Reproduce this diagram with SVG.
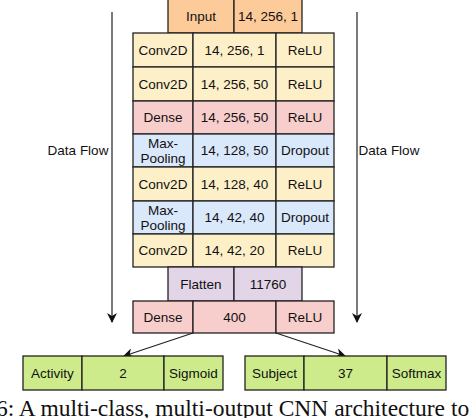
<svg xmlns="http://www.w3.org/2000/svg" width="474" height="418" viewBox="0 0 474 418">
<style>
rect{stroke:#222;stroke-width:1.3}
.t{font-family:"Liberation Sans",Arial,sans-serif;font-size:13.5px;fill:#111;text-anchor:middle;dominant-baseline:central}
.df{font-family:"Liberation Sans",Arial,sans-serif;font-size:13.5px;fill:#111;text-anchor:middle;dominant-baseline:central}
.or{fill:#fdca9a}.ye{fill:#fdf0c8}.rd{fill:#f8cecc}.bl{fill:#dae8fc}.pu{fill:#e1d5e7}.gr{fill:#cdeb8b}
.cap{font-family:"Liberation Serif","Times New Roman",serif;font-size:23.5px;fill:#111}
</style>
<defs>
<marker id="ah" markerWidth="10" markerHeight="10" refX="9" refY="5" orient="auto" markerUnits="userSpaceOnUse">
<path d="M0,0 L10,5 L0,10 L3,5 Z" fill="#111"/>
</marker>
</defs>
<rect width="474" height="418" fill="#fff" style="stroke:none"/>
<g id="connectors" stroke="#222" stroke-width="1.2" fill="none">
<line x1="112" y1="12" x2="112" y2="322" marker-end="url(#ah)"/>
<line x1="357" y1="12" x2="357" y2="322" marker-end="url(#ah)"/>
<line x1="193" y1="333" x2="124" y2="356" marker-end="url(#ah)"/>
<line x1="276" y1="333" x2="345" y2="356" marker-end="url(#ah)"/>
</g>
<g id="labels">
<text class="df" x="78" y="150">Data Flow</text>
<text class="df" x="389" y="150">Data Flow</text>
</g>
<g id="input">
<rect class="or" x="168" y="-1" width="66" height="34"/><rect class="or" x="234" y="-1" width="68" height="34"/>
<text class="t" x="201" y="16">Input</text><text class="t" x="268" y="16">14, 256, 1</text>
</g>
<g id="conv1">
<rect class="ye" x="133" y="33" width="60" height="34"/><rect class="ye" x="193" y="33" width="83" height="34"/><rect class="ye" x="276" y="33" width="58" height="34"/>
<text class="t" x="163" y="50">Conv2D</text><text class="t" x="234.5" y="50">14, 256, 1</text><text class="t" x="305" y="50">ReLU</text>
</g>
<g id="conv2">
<rect class="ye" x="133" y="67" width="60" height="34"/><rect class="ye" x="193" y="67" width="83" height="34"/><rect class="ye" x="276" y="67" width="58" height="34"/>
<text class="t" x="163" y="84">Conv2D</text><text class="t" x="234.5" y="84">14, 256, 50</text><text class="t" x="305" y="84">ReLU</text>
</g>
<g id="dense1">
<rect class="rd" x="133" y="101" width="60" height="33"/><rect class="rd" x="193" y="101" width="83" height="33"/><rect class="rd" x="276" y="101" width="58" height="33"/>
<text class="t" x="163" y="117.5">Dense</text><text class="t" x="234.5" y="117.5">14, 256, 50</text><text class="t" x="305" y="117.5">ReLU</text>
</g>
<g id="pool1">
<rect class="bl" x="133" y="134" width="60" height="33"/><rect class="bl" x="193" y="134" width="83" height="33"/><rect class="bl" x="276" y="134" width="58" height="33"/>
<text class="t" x="163" y="143">Max-</text><text class="t" x="163" y="158">Pooling</text><text class="t" x="234.5" y="150.5">14, 128, 50</text><text class="t" x="305" y="150.5">Dropout</text>
</g>
<g id="conv3">
<rect class="ye" x="133" y="167" width="60" height="34"/><rect class="ye" x="193" y="167" width="83" height="34"/><rect class="ye" x="276" y="167" width="58" height="34"/>
<text class="t" x="163" y="184">Conv2D</text><text class="t" x="234.5" y="184">14, 128, 40</text><text class="t" x="305" y="184">ReLU</text>
</g>
<g id="pool2">
<rect class="bl" x="133" y="201" width="60" height="33"/><rect class="bl" x="193" y="201" width="83" height="33"/><rect class="bl" x="276" y="201" width="58" height="33"/>
<text class="t" x="163" y="210">Max-</text><text class="t" x="163" y="225">Pooling</text><text class="t" x="234.5" y="217.5">14, 42, 40</text><text class="t" x="305" y="217.5">Dropout</text>
</g>
<g id="conv4">
<rect class="ye" x="133" y="234" width="60" height="33"/><rect class="ye" x="193" y="234" width="83" height="33"/><rect class="ye" x="276" y="234" width="58" height="33"/>
<text class="t" x="163" y="250.5">Conv2D</text><text class="t" x="234.5" y="250.5">14, 42, 20</text><text class="t" x="305" y="250.5">ReLU</text>
</g>
<g id="flatten">
<rect class="pu" x="168" y="267" width="66" height="34"/><rect class="pu" x="234" y="267" width="68" height="34"/>
<text class="t" x="201" y="284">Flatten</text><text class="t" x="268" y="284">11760</text>
</g>
<g id="dense2">
<rect class="rd" x="133" y="301" width="60" height="32"/><rect class="rd" x="193" y="301" width="83" height="32"/><rect class="rd" x="276" y="301" width="58" height="32"/>
<text class="t" x="163" y="317">Dense</text><text class="t" x="234.5" y="317">400</text><text class="t" x="305" y="317">ReLU</text>
</g>
<g id="activity">
<rect class="gr" x="23" y="356" width="59" height="34"/><rect class="gr" x="82" y="356" width="82" height="34"/><rect class="gr" x="164" y="356" width="59" height="34"/>
<text class="t" x="52.5" y="373">Activity</text><text class="t" x="123" y="373">2</text><text class="t" x="193.5" y="373">Sigmoid</text>
</g>
<g id="subject">
<rect class="gr" x="245" y="356" width="59" height="34"/><rect class="gr" x="304" y="356" width="83" height="34"/><rect class="gr" x="387" y="356" width="59" height="34"/>
<text class="t" x="274.5" y="373">Subject</text><text class="t" x="345.5" y="373">37</text><text class="t" x="416.5" y="373">Softmax</text>
</g>
<text class="cap" x="-4" y="416">6: A multi-class, multi-output CNN architecture to e</text>
</svg>
